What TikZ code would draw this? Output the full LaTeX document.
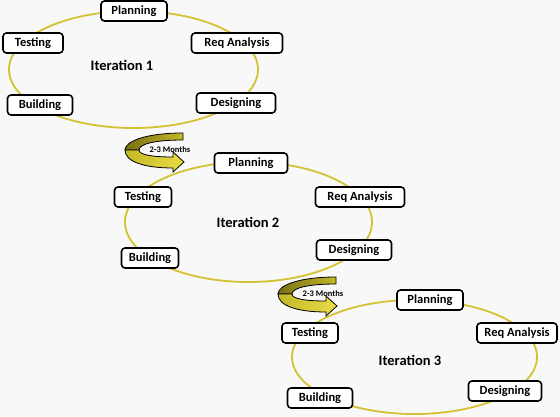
\documentclass[tikz,border=0pt]{standalone}
\usepackage{fontspec}
\setmainfont{Carlito}
\definecolor{bg}{RGB}{248,248,248}
\definecolor{ringyellow}{RGB}{212,194,50}
\definecolor{arrowdark}{RGB}{120,112,20}
\definecolor{arrowmid}{RGB}{196,184,40}
\definecolor{arrowlight}{RGB}{232,220,70}
\begin{document}
\begin{tikzpicture}[x=1pt,y=-1pt,
  stage/.style={draw=black, line width=1.6pt, rounded corners=3.5pt, fill=white,
    minimum height=20pt, inner xsep=4pt, inner ysep=0pt,
    font=\bfseries\fontsize{12.5}{14}\selectfont},
  iter/.style={font=\bfseries\fontsize{14.5}{16}\selectfont},
  ring/.style={draw=ringyellow, line width=1.8pt},
  months/.style={font=\bfseries\fontsize{8.5}{10}\selectfont, inner sep=0pt},
  bandback/.style={draw=black, line width=0.8pt, left color=arrowdark, right color=arrowmid},
  bandfront/.style={draw=black, line width=0.8pt, left color=arrowmid, right color=arrowlight},
  monthsarrow/.pic={
    \path[bandback] (58,0) .. controls (22,0) and (0,8) .. (0,17) -- (14,17)
      .. controls (14,11) and (30,7) .. (58,7) -- cycle;
    \path[bandfront] (0,17) .. controls (0,29) and (20,35) .. (48,35) -- (48,39) -- (59,29)
      -- (48,19) -- (48,24) .. controls (28,24) and (14,22) .. (14,17) -- cycle;
  }
]
\fill[bg] (0,0) rectangle (560,417);
\useasboundingbox (0,0) rectangle (560,417);

% cycles
\draw[ring] (133.5,69.5) ellipse [x radius=124.5pt, y radius=58.5pt];
\draw[ring] (248.5,222) ellipse [x radius=123.5pt, y radius=60pt];
\draw[ring] (414.5,357) ellipse [x radius=122.5pt, y radius=57pt];

% arrows between iterations
\pic at (125,133) {monthsarrow};
\pic at (278,277) {monthsarrow};
\node[months] (m1) at (170,150) {2-3 Months};
\node[months] (m2) at (323,294) {2-3 Months};

% iteration 1
\node[stage, minimum width=66pt] (p1) at (134,11) {Planning};
\node[stage, minimum width=60pt] (t1) at (33,43) {Testing};
\node[stage, minimum width=91pt] (r1) at (237,43) {Req Analysis};
\node[stage, minimum width=65pt] (b1) at (40,105) {Building};
\node[stage, minimum width=79pt] (d1) at (236,103) {Designing};
\node[iter] (i1) at (122,65) {Iteration 1};

% iteration 2
\node[stage, minimum width=73pt] (p2) at (251,163) {Planning};
\node[stage, minimum width=57pt] (t2) at (143,197) {Testing};
\node[stage, minimum width=89pt] (r2) at (360,197) {Req Analysis};
\node[stage, minimum width=57pt] (b2) at (150,258) {Building};
\node[stage, minimum width=75pt] (d2) at (354,250) {Designing};
\node[iter] (i2) at (248,222) {Iteration 2};

% iteration 3
\node[stage, minimum width=66pt] (p3) at (430,300) {Planning};
\node[stage, minimum width=56pt] (t3) at (310,333) {Testing};
\node[stage, minimum width=80pt] (r3) at (517,333) {Req Analysis};
\node[stage, minimum width=65pt] (b3) at (320,398) {Building};
\node[stage, minimum width=73pt] (d3) at (505,391) {Designing};
\node[iter] (i3) at (410,360) {Iteration 3};
\end{tikzpicture}
\end{document}
